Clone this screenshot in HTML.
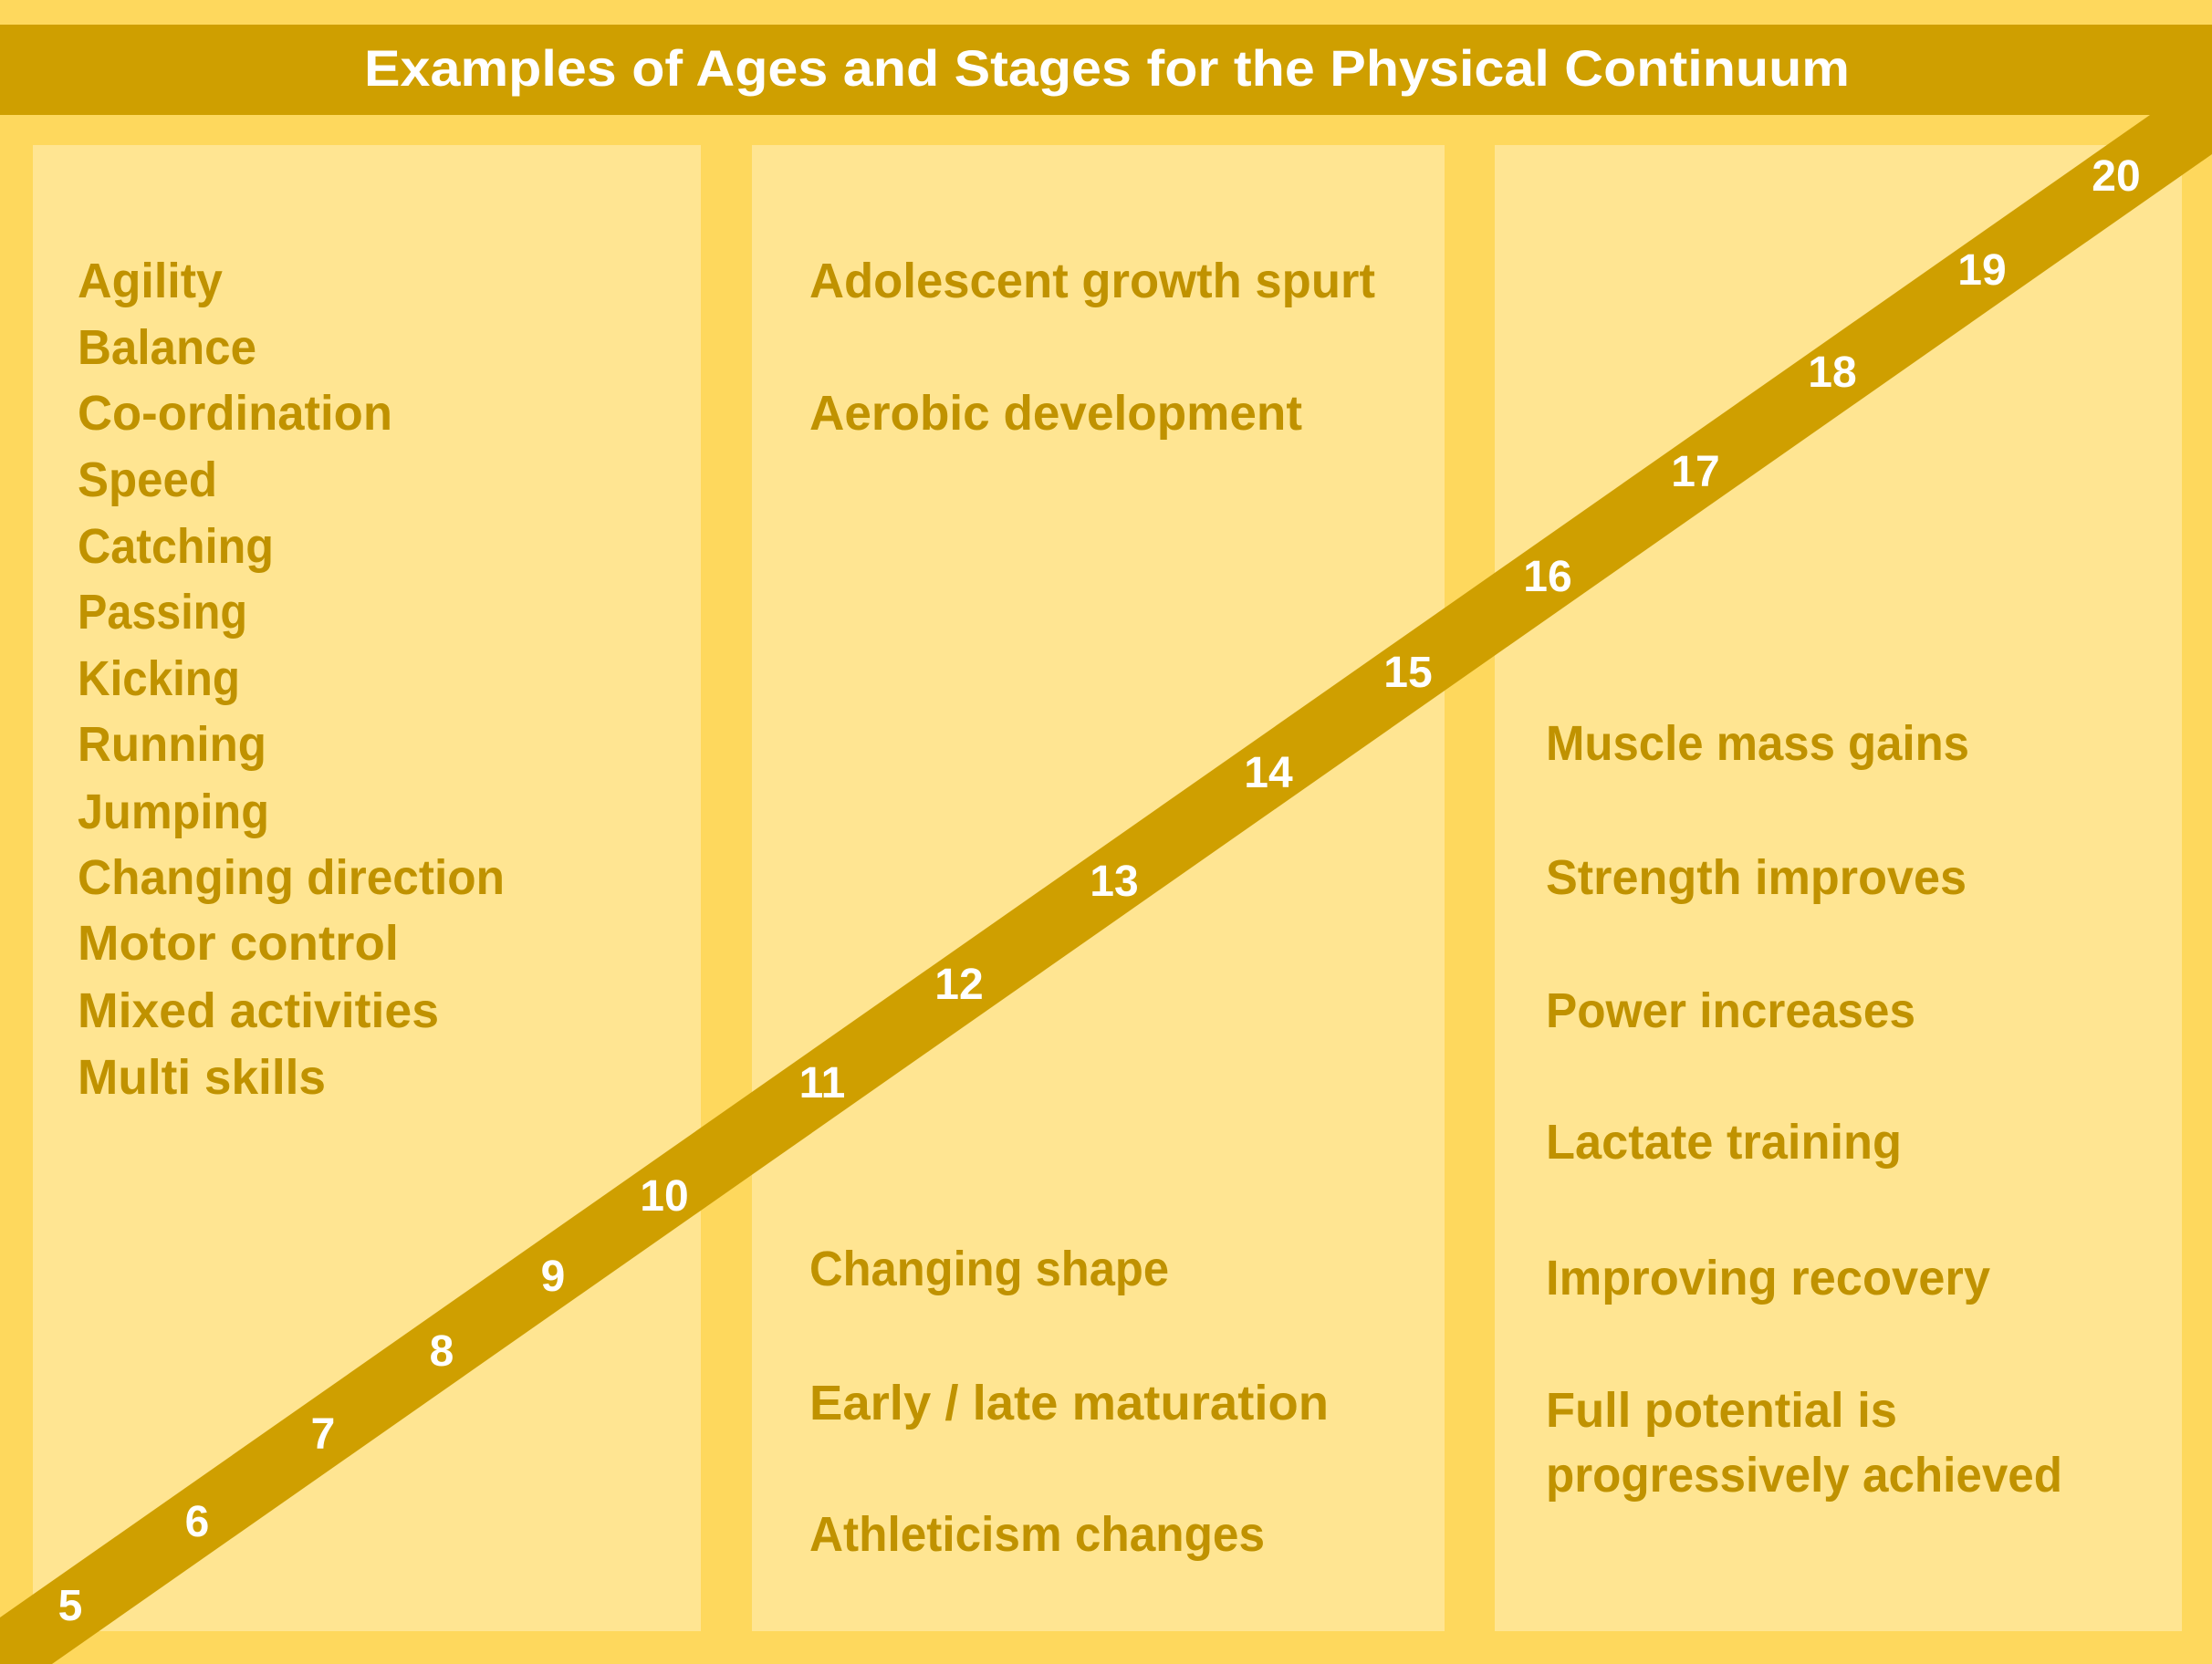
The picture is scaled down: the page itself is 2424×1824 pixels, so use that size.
<!DOCTYPE html>
<html><head><meta charset="utf-8"><style>
html,body{margin:0;padding:0;background:#FED85D;}
svg{display:block;}
.t{font-family:"Liberation Sans",sans-serif;font-weight:bold;font-size:54px;fill:#C09200;}
.n{font-family:"Liberation Sans",sans-serif;font-weight:bold;font-size:48px;fill:#fff;text-anchor:middle;}
</style></head><body>
<svg width="2424" height="1824" viewBox="0 0 2424 1824">
<rect x="0" y="0" width="2424" height="1824" fill="#FED85D"/>
<rect x="36" y="159" width="732" height="1629" fill="#FFE592"/>
<rect x="824" y="159" width="759" height="1629" fill="#FFE592"/>
<rect x="1638" y="159" width="753" height="1629" fill="#FFE592"/>
<rect x="0" y="27" width="2424" height="99" fill="#CF9F00"/>
<polygon points="2356,126 2424,126 2424,169 57,1824 0,1824 0,1773" fill="#CF9F00"/>
<text x="399" y="94" font-family="Liberation Sans, sans-serif" font-weight="bold" font-size="56" fill="#fff" textLength="1628" lengthAdjust="spacingAndGlyphs">Examples of Ages and Stages for the Physical Continuum</text>
<g>
<text class="t" x="85" y="326" textLength="159" lengthAdjust="spacingAndGlyphs">Agility</text>
<text class="t" x="85" y="399" textLength="196" lengthAdjust="spacingAndGlyphs">Balance</text>
<text class="t" x="85" y="471" textLength="345" lengthAdjust="spacingAndGlyphs">Co-ordination</text>
<text class="t" x="85" y="544" textLength="153" lengthAdjust="spacingAndGlyphs">Speed</text>
<text class="t" x="85" y="617" textLength="215" lengthAdjust="spacingAndGlyphs">Catching</text>
<text class="t" x="85" y="689" textLength="186" lengthAdjust="spacingAndGlyphs">Passing</text>
<text class="t" x="85" y="762" textLength="178" lengthAdjust="spacingAndGlyphs">Kicking</text>
<text class="t" x="85" y="834" textLength="207" lengthAdjust="spacingAndGlyphs">Running</text>
<text class="t" x="85" y="908" textLength="210" lengthAdjust="spacingAndGlyphs">Jumping</text>
<text class="t" x="85" y="980" textLength="468" lengthAdjust="spacingAndGlyphs">Changing direction</text>
<text class="t" x="85" y="1052" textLength="352" lengthAdjust="spacingAndGlyphs">Motor control</text>
<text class="t" x="85" y="1126" textLength="396" lengthAdjust="spacingAndGlyphs">Mixed activities</text>
<text class="t" x="85" y="1199" textLength="272" lengthAdjust="spacingAndGlyphs">Multi skills</text>
</g>
<g>
<text class="t" x="887" y="326" textLength="620" lengthAdjust="spacingAndGlyphs">Adolescent growth spurt</text>
<text class="t" x="887" y="471" textLength="540" lengthAdjust="spacingAndGlyphs">Aerobic development</text>
<text class="t" x="887" y="1409" textLength="394" lengthAdjust="spacingAndGlyphs">Changing shape</text>
<text class="t" x="887" y="1556" textLength="569" lengthAdjust="spacingAndGlyphs">Early / late maturation</text>
<text class="t" x="887" y="1700" textLength="499" lengthAdjust="spacingAndGlyphs">Athleticism changes</text>
</g>
<g>
<text class="t" x="1694" y="833" textLength="464" lengthAdjust="spacingAndGlyphs">Muscle mass gains</text>
<text class="t" x="1694" y="980" textLength="461" lengthAdjust="spacingAndGlyphs">Strength improves</text>
<text class="t" x="1694" y="1126" textLength="405" lengthAdjust="spacingAndGlyphs">Power increases</text>
<text class="t" x="1694" y="1270" textLength="390" lengthAdjust="spacingAndGlyphs">Lactate training</text>
<text class="t" x="1694" y="1419" textLength="487" lengthAdjust="spacingAndGlyphs">Improving recovery</text>
<text class="t" x="1694" y="1564" textLength="385" lengthAdjust="spacingAndGlyphs">Full potential is</text>
<text class="t" x="1694" y="1635" textLength="566" lengthAdjust="spacingAndGlyphs">progressively achieved</text>
</g>
<g>
<text class="n" x="77" y="1776">5</text>
<text class="n" x="216" y="1684">6</text>
<text class="n" x="354" y="1588">7</text>
<text class="n" x="484" y="1497">8</text>
<text class="n" x="606" y="1415">9</text>
<text class="n" x="728" y="1327">10</text>
<text class="n" x="901" y="1203">11</text>
<text class="n" x="1051" y="1095">12</text>
<text class="n" x="1221" y="982">13</text>
<text class="n" x="1390" y="863">14</text>
<text class="n" x="1543" y="753">15</text>
<text class="n" x="1696" y="648">16</text>
<text class="n" x="1858" y="533">17</text>
<text class="n" x="2008" y="424">18</text>
<text class="n" x="2172" y="312">19</text>
<text class="n" x="2319" y="209">20</text>
</g>
</svg>
</body></html>
